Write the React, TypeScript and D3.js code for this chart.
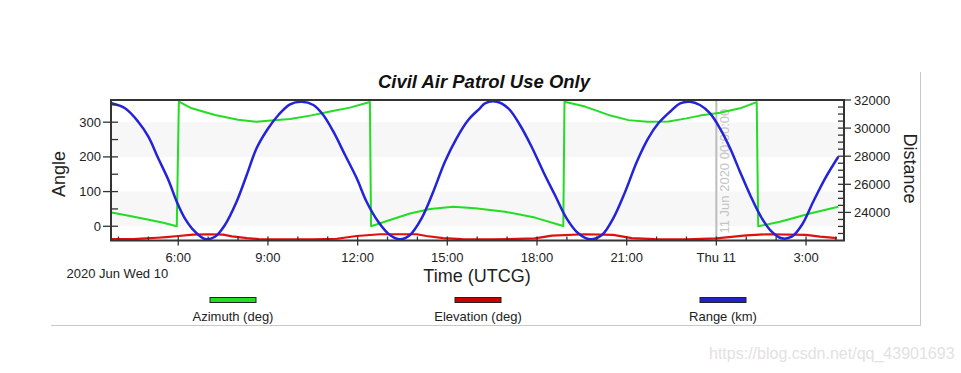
import React from "react";
import * as d3 from "d3";

// hours since 2020-06-10 00:00 UTCG
const timeTicks: [number, string][] = [
  [6, "6:00"], [9, "9:00"], [12, "12:00"], [15, "15:00"],
  [18, "18:00"], [21, "21:00"], [24, "Thu 11"], [27, "3:00"],
];
const angleTicks = [0, 100, 200, 300];
const distanceTicks = [24000, 26000, 28000, 30000, 32000];

const azimuth: [number, number][] = [
  [3.77, 40], [4.3, 31], [4.89, 21], [5.5, 10], [5.95, 0],
  [6.02, 359], [6.45, 340], [7.23, 321], [8.0, 307], [8.62, 301], [9.0, 304],
  [9.74, 309], [10.41, 319], [11.08, 331], [11.74, 342], [12.41, 358],
  [12.45, 0], [13.08, 18], [13.75, 37], [14.42, 50], [15.2, 56], [15.93, 52],
  [16.93, 42], [17.93, 25], [18.88, 1],
  [18.92, 359], [19.61, 345], [20.39, 321], [21.06, 306], [21.7, 301], [22.4, 302],
  [23.0, 311], [23.45, 319], [24.12, 327], [24.79, 340], [25.35, 358],
  [25.4, 0], [26.13, 13], [27.13, 37], [28.08, 56],
];

const elevation: [number, number][] = [
  [3.75, -37], [4.5, -37], [4.9, -35], [5.3, -33], [5.6, -31], [6.0, -28],
  [6.5, -24], [7.0, -23], [7.5, -24], [7.8, -29], [8.3, -34], [8.7, -37],
  [9.5, -37.5], [10.5, -38], [11.3, -36], [11.97, -28], [12.75, -23], [13.98, -23],
  [14.3, -28], [14.86, -34], [15.5, -37], [16.5, -38], [17.93, -35], [18.5, -27],
  [19.6, -23], [20.55, -25], [21.17, -34], [21.95, -37], [23.0, -38], [24.0, -35],
  [25.0, -26], [25.7, -23], [27.0, -25], [27.47, -30], [28.03, -34],
];

const range: [number, number][] = [
  [3.77, 31765], [4.22, 31409], [4.66, 30455], [5.0, 29388], [5.33, 27850],
  [5.67, 26306], [5.95, 24761], [6.22, 23580], [6.56, 22626], [6.89, 22107],
  [7.23, 22270], [7.56, 23103], [7.95, 24761], [8.29, 26662], [8.62, 28562],
  [9.01, 29985], [9.35, 30932], [9.74, 31693], [10.13, 31878], [10.52, 31644],
  [10.85, 30932], [11.19, 29743], [11.58, 28085], [11.97, 26427], [12.3, 24761],
  [12.69, 23338], [13.08, 22391], [13.42, 22085], [13.75, 22391], [14.14, 23580],
  [14.53, 25473], [14.92, 27608], [15.31, 29274], [15.7, 30576], [16.09, 31409],
  [16.26, 31765], [16.65, 31878], [17.04, 31409], [17.43, 30220], [17.82, 28676],
  [18.21, 26897], [18.6, 25238], [18.99, 23580], [19.38, 22512], [19.77, 22085],
  [20.17, 22391], [20.55, 23580], [20.95, 25473], [21.34, 27608], [21.72, 29274],
  [22.06, 30341], [22.45, 31167], [22.79, 31765], [23.12, 31878], [23.45, 31644],
  [23.79, 31053], [24.12, 29985], [24.46, 28562], [24.79, 26897], [25.13, 25238],
  [25.46, 23815], [25.8, 22747], [26.19, 22157], [26.52, 22270], [26.86, 23103],
  [27.24, 24761], [27.64, 26427], [28.08, 27964],
];

const legendItems: [string, string][] = [
  ["Azimuth (deg)", "#22dd22"],
  ["Elevation (deg)", "#cc0000"],
  ["Range (km)", "#2222cc"],
];

const FONT = "'Liberation Sans', Arial, sans-serif";

export default function App() {
  const L = 111, R = 844, T = 100, B = 240.5;
  const x = d3.scaleLinear().domain([3.75, 28.27]).range([L, R]);
  const yL = d3.scaleLinear().domain([-41, 364]).range([B, T]);
  const yR = d3.scaleLinear().domain([22000, 32000]).range([B, T]);

  const lineL = d3.line<[number, number]>().x(d => x(d[0])).y(d => yL(d[1]));
  const lineR = d3
    .line<[number, number]>()
    .x(d => x(d[0]))
    .y(d => yR(d[1]))
    .curve(d3.curveCatmullRom.alpha(0.5));

  const hourTicks = d3.range(4, 29);
  const minorAngle = [50, 150, 250, 350];
  const minorDist = d3.range(22500, 32000, 500).filter(v => v % 2000 !== 0);

  const legendX = [233, 478, 723];

  return (
    <svg
      width={961}
      height={373}
      style={{ position: "absolute", left: 0, top: 0, background: "#fff" }}
      fontFamily={FONT}
    >
      <rect x={0} y={0} width={961} height={373} fill="#fff" />
      {/* outer frame (right & bottom edge) */}
      <line x1={920.5} y1={72} x2={920.5} y2={325.5} stroke="#c8c8c8" />
      <line x1={51} y1={325.5} x2={920.5} y2={325.5} stroke="#c8c8c8" />

      <defs>
        <clipPath id="plotclip">
          <rect x={L} y={T} width={R - L} height={B - T} />
        </clipPath>
      </defs>

      {/* alternating bands */}
      <rect x={L} y={yL(300)} width={R - L} height={yL(200) - yL(300)} fill="#f7f7f7" />
      <rect x={L} y={yL(100)} width={R - L} height={yL(0) - yL(100)} fill="#f7f7f7" />

      {/* day marker */}
      <g clipPath="url(#plotclip)">
        <line x1={x(24)} y1={T} x2={x(24)} y2={B} stroke="#bcbcbc" strokeWidth={2} />
        <text
          transform={`translate(${x(24) + 12.5},${B - 7}) rotate(-90)`}
          fontSize={13}
          fill="#c4c4c4"
        >
          11 Jun 2020 00:00:00
        </text>
      </g>

      {/* series */}
      <g clipPath="url(#plotclip)" fill="none" strokeLinejoin="round">
        <path d={lineL(elevation) || ""} stroke="#dd1111" strokeWidth={2.2} />
        <path d={lineL(azimuth) || ""} stroke="#22dd22" strokeWidth={2} />
        <path d={lineR(range) || ""} stroke="#2323dc" strokeWidth={2.5} />
      </g>

      {/* plot border */}
      <rect x={L} y={T} width={R - L} height={B - T} fill="none" stroke="#333" strokeWidth={2} />

      {/* bottom axis ticks */}
      {hourTicks.map(h => {
        const major = h % 3 === 0;
        return (
          <line
            key={"h" + h}
            x1={x(h)}
            x2={x(h)}
            y1={B - 4}
            y2={major ? B + 5 : B}
            stroke="#333"
            strokeWidth={1.3}
          />
        );
      })}
      {timeTicks.map(([h, lab]) => (
        <text key={lab} x={x(h)} y={262} textAnchor="middle" fontSize={13} fill="#222">
          {lab}
        </text>
      ))}

      {/* left axis */}
      {angleTicks.map(v => (
        <g key={"a" + v}>
          <line x1={L - 8} x2={L + 7} y1={yL(v)} y2={yL(v)} stroke="#333" strokeWidth={1.3} />
          <text x={101} y={yL(v) + 4.5} textAnchor="end" fontSize={13} fill="#222">
            {v}
          </text>
        </g>
      ))}
      {minorAngle.map(v => (
        <line key={"am" + v} x1={L} x2={L + 7} y1={yL(v)} y2={yL(v)} stroke="#333" strokeWidth={1.3} />
      ))}

      {/* right axis */}
      {distanceTicks.map(v => (
        <g key={"d" + v}>
          <line x1={R - 6} x2={R + 7} y1={yR(v)} y2={yR(v)} stroke="#333" strokeWidth={1.3} />
          <text x={854} y={yR(v) + 4.5} fontSize={13} fill="#222">
            {v}
          </text>
        </g>
      ))}
      {minorDist.map(v => (
        <line key={"dm" + v} x1={R - 6} x2={R} y1={yR(v)} y2={yR(v)} stroke="#333" strokeWidth={1.3} />
      ))}

      {/* titles */}
      <text x={484} y={88} textAnchor="middle" fontSize={18.5} fontWeight="bold" fontStyle="italic" fill="#111">
        Civil Air Patrol Use Only
      </text>
      <text transform="translate(65,174) rotate(-90)" textAnchor="middle" fontSize={18} fill="#222">
        Angle
      </text>
      <text transform="translate(904,168.5) rotate(90)" textAnchor="middle" fontSize={18} fill="#222">
        Distance
      </text>
      <text x={477} y={282} textAnchor="middle" fontSize={18} fill="#222">
        Time (UTCG)
      </text>
      <text x={66.5} y={278} fontSize={13} fill="#222">
        2020 Jun Wed 10
      </text>

      {/* legend */}
      {legendItems.map(([name, color], i) => (
        <g key={name}>
          <rect x={legendX[i] - 23} y={297.5} width={46} height={5} fill={color} stroke="#222" strokeWidth={1} />
          <text x={legendX[i]} y={321} textAnchor="middle" fontSize={13} fill="#222">
            {name}
          </text>
        </g>
      ))}

      {/* watermark */}
      <text x={709} y={359} fontSize={16} fill="#e2e2e2">
        https://blog.csdn.net/qq_43901693
      </text>
    </svg>
  );
}
